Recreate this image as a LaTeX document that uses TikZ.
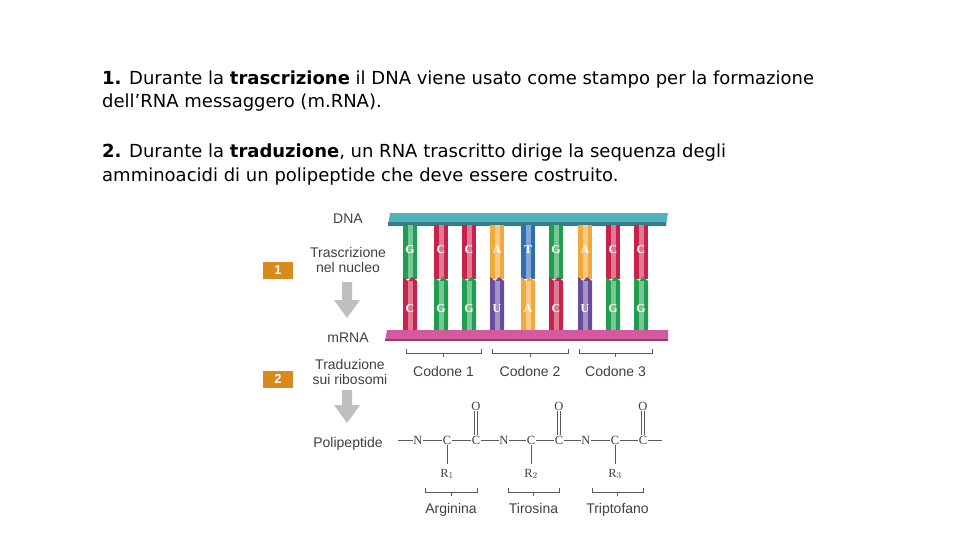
\documentclass[tikz,border=0pt]{standalone}
\usepackage{fontspec}
\setmainfont{DejaVu Sans}
\newfontfamily\figfont{Liberation Sans}
\newfontfamily\chemfont{Liberation Serif}
\definecolor{pgreen}{HTML}{1E9E4E}
\definecolor{pred}{HTML}{C8214B}
\definecolor{porange}{HTML}{F2A93B}
\definecolor{pblue}{HTML}{2F6DB5}
\definecolor{ppurple}{HTML}{6A4C9C}
\definecolor{pteal}{HTML}{4FB3BF}
\definecolor{pmag}{HTML}{D45AA0}
\definecolor{boxor}{HTML}{D98A1C}
\begin{document}
\begin{tikzpicture}[x=1pt,y=-1pt,
  fig/.style={font=\figfont\fontsize{14}{15.5}\selectfont, text=black!75, align=center, inner sep=0pt},
  figb/.style={fig, anchor=base},
  ch/.style={font=\chemfont\fontsize{12.5}{13}\selectfont, text=black!75, inner sep=0.5pt},
  bond/.style={black!65, line width=0.6pt},
  nbox/.style={fill=boxor, text=white, font=\figfont\bfseries\fontsize{13}{14}\selectfont, minimum width=30pt, minimum height=17pt, inner sep=0pt},
  bigarrow/.style={fill=black!25, draw=none},
  lett/.style={text=white, font=\chemfont\bfseries\fontsize{12}{13}\selectfont, inner sep=0pt},
  main/.style={font=\fontsize{18}{20}\selectfont, anchor=west, inner sep=0pt}]
\useasboundingbox (0,0) rectangle (960,540);
\fill[white] (0,0) rectangle (960,540);
% text
\node[main] (l1) at (102,80) {\textbf{1.} Durante la \textbf{trascrizione} il DNA viene usato come stampo per la formazione};
\node[main] (l2) at (102,103) {dell’RNA messaggero (m.RNA).};
\node[main] (l3) at (102,153) {\textbf{2.} Durante la \textbf{traduzione}, un RNA trascritto dirige la sequenza degli};
\node[main] (l4) at (102,177) {amminoacidi di un polipeptide che deve essere costruito.};
% bars
\fill[pteal] (390,213) -- (668,213) -- (666,226) -- (388,226) -- cycle;
\fill[pteal!70!black] (388,222) rectangle (666,226);
% pillars
\foreach \x/\tc/\tl/\bc/\bl in {410/pgreen/G/pred/C, 441/pred/C/pgreen/G, 469/pred/C/pgreen/G, 497/porange/A/ppurple/U, 528/pblue/T/porange/A, 556/pgreen/G/pred/C, 585/porange/A/ppurple/U, 613/pred/C/pgreen/G, 641/pred/C/pgreen/G}{
  \fill[\tc] (\x-7,225) rectangle (\x+7,279);
  \fill[\tc!60!white] (\x-2,225) rectangle (\x+3,279);
  \fill[\bc] (\x-7,277) -- (\x-2,281) -- (\x+2,277) -- (\x+7,281) -- (\x+7,332) -- (\x-7,332) -- cycle;
  \fill[\bc!60!white] (\x-2,281) rectangle (\x+3,332);
  \node[lett] at (\x,250) {\tl};
  \node[lett] at (\x,309) {\bl};
}
\fill[pmag] (387,330) -- (668,330) -- (668,341) -- (385,341) -- cycle;
\fill[pmag!70!black] (385,339) rectangle (668,341);
% codon brackets
\foreach \a/\b/\t/\n in {406/481/Codone 1/c1, 492/568/Codone 2/c2, 579/652/Codone 3/c3}{
  \draw[bond] (\a,349) -- (\a,353) -- (\b,353) -- (\b,349);
  \draw[bond] ({(\a+\b)/2},353) -- ({(\a+\b)/2},357);
  \node[figb] (\n) at ({(\a+\b)/2},376) {\t};
}
% left labels
\node[figb] (dna) at (348,223) {DNA};
\node[fig] (tr) at (348,260) {Trascrizione\\nel nucleo};
\node[nbox] (b1) at (278,270) {1};
\fill[bigarrow] (342,282) -- (352,282) -- (352,300) -- (360,300) -- (347,318) -- (334,300) -- (342,300) -- cycle;
\node[figb] (mrna) at (348,342) {mRNA};
\node[fig] (td) at (350,372) {Traduzione\\sui ribosomi};
\node[nbox] (b2) at (278,379) {2};
\fill[bigarrow] (342,390) -- (352,390) -- (352,405) -- (360,405) -- (347,423) -- (334,405) -- (342,405) -- cycle;
\node[figb] (pol) at (348,447) {Polipeptide};
% chain
\foreach \n/\x/\t in {n1/418/N, c1a/447/C, c1b/476/C, n2/504/N, c2a/531/C, c2b/559/C, n3/586/N, c3a/615/C, c3b/643/C}{
  \node[ch] (\n) at (\x,440) {\t};
}
\coordinate (st) at (398,440);
\coordinate (en) at (662,440);
\draw[bond] (st) -- (n1) -- (c1a) -- (c1b) -- (n2) -- (c2a) -- (c2b) -- (n3) -- (c3a) -- (c3b) -- (en);
\foreach \c/\o/\x in {c1b/o1/476, c2b/o2/559, c3b/o3/643}{
  \node[ch] (\o) at (\x,406) {O};
  \draw[bond] ([xshift=-1.3]\o.south) -- ([xshift=-1.3]\c.north);
  \draw[bond] ([xshift=1.3]\o.south) -- ([xshift=1.3]\c.north);
}
\foreach \c/\r/\i/\x in {c1a/r1/1/447, c2a/r2/2/531, c3a/r3/3/615}{
  \node[ch] (\r) at (\x,474) {R$_{\i}$};
  \draw[bond] (\c.south) -- (\x,464);
}
\foreach \a/\b/\t/\n in {425/477/Arginina/a1, 508/559/Tirosina/a2, 592/643/Triptofano/a3}{
  \draw[bond] (\a,488) -- (\a,492) -- (\b,492) -- (\b,488);
  \draw[bond] ({(\a+\b)/2},492) -- ({(\a+\b)/2},496);
  \node[figb] (\n) at ({(\a+\b)/2},513) {\t};
}
\end{tikzpicture}
\end{document}
